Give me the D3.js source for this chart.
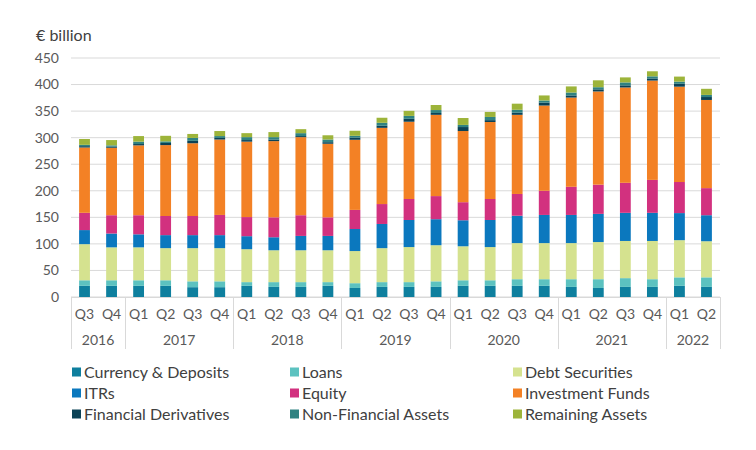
<!DOCTYPE html>
<html>
<head>
<meta charset="utf-8">
<script src="https://cdn.jsdelivr.net/npm/d3@7"></script>
<style>
  body { margin: 0; background: #fff; }
  svg { font-family: Lato, "Open Sans", sans-serif; }
</style>
</head>
<body>
<svg id="chart" width="756" height="450"></svg>
<script>
// quarters from 2016 Q3 to 2022 Q2
const quarters = ["Q3","Q4","Q1","Q2","Q3","Q4","Q1","Q2","Q3","Q4","Q1","Q2","Q3","Q4","Q1","Q2","Q3","Q4","Q1","Q2","Q3","Q4","Q1","Q2"];
const years = ["2016","2016","2017","2017","2017","2017","2018","2018","2018","2018","2019","2019","2019","2019","2020","2020","2020","2020","2021","2021","2021","2021","2022","2022"];

const currencyDeposits = [21,21,21,21,18.5,18.5,21,19,19,21,17,19,19,19,21,21,21,21,19,17,19,19,21,19];
const loans = [10.5,10.5,10.5,10.5,11,11,7,9,9,7,9,9,9,10.5,10.5,10.5,12.5,12.5,14.5,16.5,16.5,14.5,16,18];
const debtSecurities = [68,62,62,60.5,62.5,62.5,62,60,60,60,60.5,64,66,68,64,62.5,68,68,68,70,70,72,70,68];
const itrs = [26.5,26,24.5,24.5,24.5,24.5,24.5,24.5,27,27,41.5,45.5,51,49,49,51,51.5,53,53,53,53,53,51,49];
const equity = [32.5,34.5,36,36,36,38,36,37.5,39,35,36,37.5,39.5,43.5,34,39.5,41,45.5,53,55,56.5,62,58.5,51];
const investmentFunds = [123,127,131.5,133.5,137,142,142,143.5,147,138.5,132,143.5,145.5,153,134,145,149,160.5,168,175.5,179.5,187,179.5,166];
const financialDerivatives = [2.5,2,2.5,4,4.5,3,3,3,2,3,4,4,5.5,3.5,7.5,3.5,4,5.5,4,4,4,4,5.5,5.5];
const nonFinancialAssets = [2.5,2.5,4.5,3,5.5,3.5,5.5,4.5,5.5,5,3.5,5.5,5.5,5.5,4,6,5.5,4,5.5,4,5.5,4,4,4];
const remainingAssets = [11,10,10.5,10.5,7.5,9.5,7.5,9.5,7.5,8,9.5,9.5,9.5,9.5,13,9.5,11.5,9.5,11.5,13,9.5,9.5,9.5,11.5];

const seriesNames = ["Currency & Deposits","Loans","Debt Securities","ITRs","Equity","Investment Funds","Financial Derivatives","Non-Financial Assets","Remaining Assets"];
const seriesValues = [currencyDeposits, loans, debtSecurities, itrs, equity, investmentFunds, financialDerivatives, nonFinancialAssets, remainingAssets];
const seriesColors = ["#0e7f9e","#5cc2c0","#d5e28f","#0b78be","#d2317f","#f38125","#0b4256","#2f8281","#9db43a"];
const yTicks = [0,50,100,150,200,250,300,350,400,450];

const svg = d3.select("#chart");
const margin = { top: 58, left: 71, right: 36, bottom: 153 };
const width = 756 - margin.left - margin.right;
const height = 450 - margin.top - margin.bottom;

const rows = quarters.map((q, i) => {
  const r = { key: i };
  seriesNames.forEach((s, j) => { r[s] = seriesValues[j][i]; });
  return r;
});

const x = d3.scaleBand().domain(d3.range(quarters.length)).range([0, width]).paddingInner(0.6).paddingOuter(0.3);
const y = d3.scaleLinear().domain([0, 450]).range([height, 0]);

const g = svg.append("g").attr("transform", "translate(" + margin.left + "," + margin.top + ")");

// gridlines
g.selectAll(".grid").data(yTicks).enter().append("line")
  .attr("x1", 0).attr("x2", width)
  .attr("y1", d => y(d)).attr("y2", d => y(d))
  .attr("stroke", "#d9d9d9").attr("stroke-width", 1);

// y labels
g.selectAll(".ylab").data(yTicks).enter().append("text")
  .attr("x", -12).attr("y", d => y(d)).attr("dy", "0.35em")
  .attr("text-anchor", "end").attr("font-size", 14).attr("fill", "#595959")
  .text(d => d);

svg.append("text").attr("x", 36).attr("y", 41).attr("font-size", 16).attr("fill", "#404040").text("€ billion");

// stacked bars
const stack = d3.stack().keys(seriesNames);
const layers = stack(rows);
g.selectAll(".layer").data(layers).enter().append("g")
  .attr("fill", (d, i) => seriesColors[i])
  .selectAll("rect").data(d => d).enter().append("rect")
  .attr("x", (d, i) => x(i))
  .attr("width", x.bandwidth())
  .attr("y", d => y(d[1]))
  .attr("height", d => y(d[0]) - y(d[1]));

// x axis
const xOuter = d3.scaleLinear().domain([0, quarters.length]).range([0, width]);
g.append("line").attr("x1", 0).attr("x2", width).attr("y1", height + 0.5).attr("y2", height + 0.5).attr("stroke", "#d9d9d9");

g.selectAll(".qlab").data(quarters).enter().append("text")
  .attr("x", (d, i) => xOuter(i + 0.5)).attr("y", height + 22)
  .attr("text-anchor", "middle").attr("font-size", 14).attr("fill", "#595959")
  .text(d => d);

// year groups
const yearGroups = [];
years.forEach((yr, i) => {
  const last = yearGroups[yearGroups.length - 1];
  if (last && last.year === yr) last.end = i + 1;
  else yearGroups.push({ year: yr, start: i, end: i + 1 });
});
const bounds = [0].concat(yearGroups.map(d => d.end));
g.selectAll(".sep").data(bounds).enter().append("line")
  .attr("x1", d => Math.round(xOuter(d)) + 0.5).attr("x2", d => Math.round(xOuter(d)) + 0.5)
  .attr("y1", height).attr("y2", height + 52)
  .attr("stroke", "#d9d9d9");
g.selectAll(".ylab2").data(yearGroups).enter().append("text")
  .attr("x", d => xOuter((d.start + d.end) / 2)).attr("y", height + 48)
  .attr("text-anchor", "middle").attr("font-size", 14).attr("fill", "#595959")
  .text(d => d.year);

// legend
const legendCols = [72, 290, 513];
const legend = svg.append("g");
seriesNames.forEach((s, i) => {
  const cx = legendCols[i % 3];
  const cy = 372 + Math.floor(i / 3) * 21;
  legend.append("rect").attr("x", cx).attr("y", cy - 4.5).attr("width", 9).attr("height", 9).attr("fill", seriesColors[i]);
  legend.append("text").attr("x", cx + 12).attr("y", cy).attr("dy", "0.35em")
    .attr("font-size", 16).attr("fill", "#404040").text(s);
});
</script>
</body>
</html>
